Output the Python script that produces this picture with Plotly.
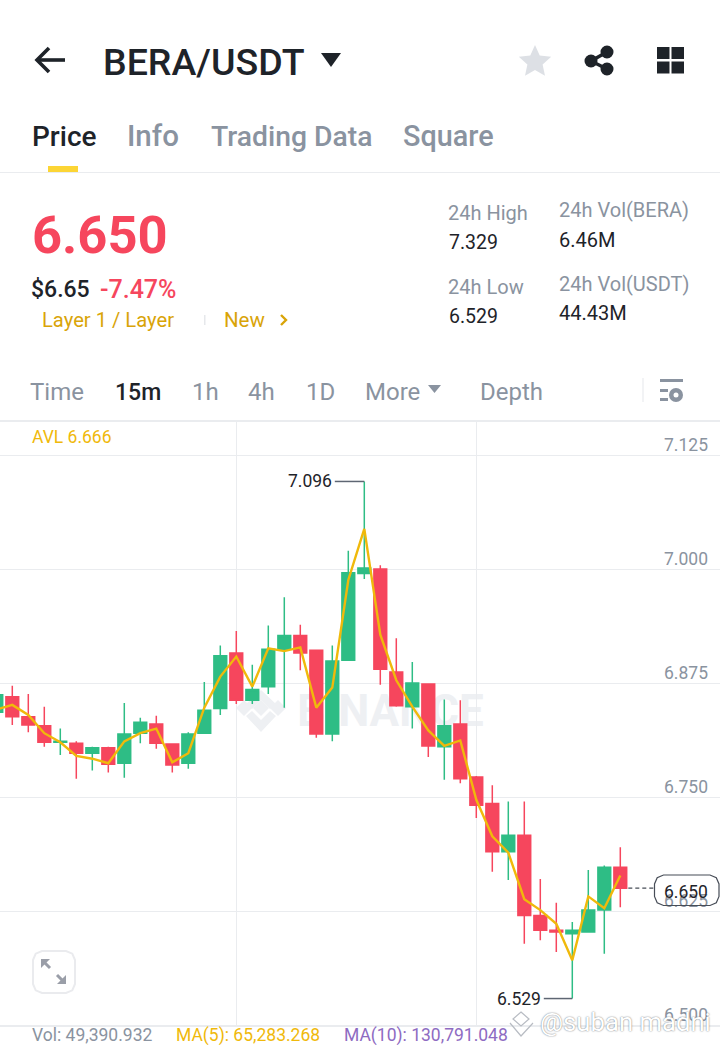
import math
import plotly.graph_objects as go

# ---------- data ----------
opens = [6.843, 6.860, 6.838, 6.828, 6.810, 6.809, 6.798, 6.804, 6.787, 6.820, 6.830, 6.808, 6.787, 6.820, 6.847, 6.908,
         6.856, 6.871, 6.912, 6.927, 6.911, 6.819, 6.900, 6.995, 7.000, 6.887, 6.849, 6.874, 6.805, 6.830, 6.772, 6.743,
         6.690, 6.708, 6.620, 6.604, 6.600, 6.602, 6.626, 6.673]
highs = [6.872, 6.872, 6.863, 6.849, 6.825, 6.811, 6.805, 6.805, 6.853, 6.837, 6.839, 6.809, 6.821, 6.876, 6.916, 6.932,
         6.895, 6.938, 6.969, 6.939, 6.911, 6.916, 7.020, 7.096, 7.004, 6.924, 6.898, 6.874, 6.857, 6.856, 6.773, 6.763,
         6.745, 6.745, 6.660, 6.634, 6.613, 6.670, 6.675, 6.695]
lows = [6.837, 6.829, 6.821, 6.805, 6.796, 6.770, 6.779, 6.777, 6.771, 6.809, 6.803, 6.777, 6.781, 6.820, 6.840, 6.852,
        6.852, 6.863, 6.848, 6.889, 6.815, 6.811, 6.899, 6.989, 6.873, 6.849, 6.825, 6.794, 6.769, 6.765, 6.727, 6.668,
        6.659, 6.589, 6.593, 6.580, 6.529, 6.602, 6.578, 6.629]
closes = [6.862, 6.838, 6.829, 6.810, 6.811, 6.798, 6.804, 6.786, 6.819, 6.832, 6.809, 6.785, 6.819, 6.845, 6.905, 6.856,
          6.868, 6.912, 6.927, 6.908, 6.819, 6.899, 6.996, 7.001, 6.890, 6.850, 6.875, 6.806, 6.828, 6.770, 6.741, 6.690,
          6.708, 6.620, 6.604, 6.602, 6.604, 6.626, 6.673, 6.650]
ma_line = [6.846, 6.851, 6.840, 6.820, 6.810, 6.795, 6.792, 6.787, 6.811, 6.820, 6.825, 6.788, 6.798, 6.848, 6.882, 6.904,
           6.871, 6.913, 6.910, 6.914, 6.848, 6.870, 6.988, 7.044, 6.928, 6.878, 6.849, 6.823, 6.806, 6.812, 6.747, 6.707,
           6.689, 6.638, 6.626, 6.611, 6.571, 6.641, 6.628, 6.664]
candle_index = list(range(len(opens)))
price_ticks = [7.125, 7.000, 6.875, 6.750, 6.625, 6.500]
price_labels = ["7.125", "7.000", "6.875", "6.750", "6.625", "6.500"]
time_grid = [15, 30]
high_mark = (23, 7.096, "7.096")
low_mark = (36, 6.529, "6.529")
last_price = 6.650

# ---------- page geometry ----------
W, H = 720, 1045
TOP, BOTTOM = 421, 1026
def px(x): return x / W
def py(y): return 1 - y / H
def path(pts, close=False):
    s = "M" + " L".join(f"{px(x):.5f},{py(y):.5f}" for x, y in pts)
    return s + (" Z" if close else "")

DARK = "#1E2329"
GRAY = "#8A93A0"
RED = "#F6465D"
GREEN = "#2EBD85"
GOLD = "#D9A408"
YEL = "#F0B90B"
LINE = "#EAECEF"
PURPLE = "#8E6BC2"
FONT = "Roboto"

fig = go.Figure()
fig.add_trace(go.Candlestick(
    x=candle_index, open=opens, high=highs, low=lows, close=closes,
    increasing=dict(line=dict(color=GREEN, width=1.5), fillcolor=GREEN),
    decreasing=dict(line=dict(color=RED, width=1.5), fillcolor=RED),
    whiskerwidth=0, hoverinfo="skip", showlegend=False))
fig.add_trace(go.Scatter(
    x=candle_index, y=ma_line, mode="lines",
    line=dict(color=YEL, width=2.4, shape="linear"), hoverinfo="skip", showlegend=False))

shapes, notes = [], []
def T(x, y, text, size, color, anchor="left", weight=400, **kw):
    notes.append(dict(xref="paper", yref="paper", x=px(x), y=py(y), text=text, showarrow=False,
                      xanchor=anchor, yanchor="middle", borderpad=0, borderwidth=0,
                      font=dict(family=FONT, size=size, color=color, weight=weight, **kw)))
def P(pts, fill=None, line=None, w=0, close=True, layer="above"):
    shapes.append(dict(type="path", xref="paper", yref="paper", path=path(pts, close), layer=layer,
                       fillcolor=fill if fill else "rgba(0,0,0,0)",
                       line=dict(color=line if line else "rgba(0,0,0,0)", width=w)))
def R(x0, y0, x1, y1, fill, layer="above"):
    shapes.append(dict(type="rect", xref="paper", yref="paper", x0=px(x0), x1=px(x1), y0=py(y0), y1=py(y1),
                       fillcolor=fill, line=dict(width=0), layer=layer))
def C(cx, cy, r, fill):
    shapes.append(dict(type="circle", xref="paper", yref="paper", x0=px(cx-r), x1=px(cx+r), y0=py(cy-r), y1=py(cy+r),
                       fillcolor=fill, line=dict(width=0)))
def RR(x0, y0, x1, y1, r, line, w):
    n = [(x0+r, y0), (x1-r, y0), (x1-r*0.3, y0+r*0.3), (x1, y0+r), (x1, y1-r), (x1-r*0.3, y1-r*0.3), (x1-r, y1),
         (x0+r, y1), (x0+r*0.3, y1-r*0.3), (x0, y1-r), (x0, y0+r), (x0+r*0.3, y0+r*0.3)]
    P(n, None, line, w)

# header
P([(65, 60), (38, 60)], None, DARK, 3.6, False)
P([(49, 48), (37, 60), (49, 72)], None, DARK, 3.6, False)
T(103, 62, "BERA/USDT", 37.5, DARK, weight=500)
P([(321, 53), (341, 53), (331, 67)], DARK)
star = []
for k in range(10):
    r = 17 if k % 2 == 0 else 8
    a = -math.pi / 2 + k * math.pi / 5
    star.append((535 + r * math.cos(a), 62 + r * math.sin(a)))
P(star, "#DDE0E5")
C(607, 52, 6.5, DARK); C(591, 61, 6.5, DARK); C(607, 69, 6.5, DARK)
P([(607, 52), (591, 61), (607, 69)], None, DARK, 3.5, False)
for a, b in [(657, 47), (671.5, 47), (657, 61.5), (671.5, 61.5)]:
    R(a, b, a + 12.5, b + 12, DARK)

# tabs
T(32, 136, "Price", 28, DARK, weight=500)
T(127, 136, "Info", 29.5, GRAY, weight=500)
T(211, 136, "Trading Data", 28.3, GRAY, weight=500)
T(403, 136, "Square", 28.8, GRAY, weight=500)
R(48, 166, 78, 172, "#FCD535")
R(0, 172, W, 173, LINE)

# price block
T(32, 235, "6.650", 52.5, RED, weight=700)
T(31, 289, "$6.65", 23, DARK, weight=500)
T(100, 289, "-7.47%", 25, RED, weight=500)
T(42, 320, "Layer 1 / Layer", 20.2, GOLD)
R(204, 315, 205.5, 325, "#E6E8EB")
T(224, 320, "New", 20.5, GOLD)
P([(281, 315), (286, 320), (281, 325)], None, GOLD, 2.4, False)
T(448, 213, "24h High", 20, GRAY)
T(449, 242, "7.329", 19.5, DARK)
T(448, 287, "24h Low", 20, GRAY)
T(449, 316, "6.529", 19.5, DARK)
T(559, 210, "24h Vol(BERA)", 20, GRAY)
T(559, 240, "6.46M", 20, DARK)
T(559, 284, "24h Vol(USDT)", 20, GRAY)
T(559, 313, "44.43M", 20, DARK)

# interval row
T(30, 392, "Time", 24, GRAY)
T(115, 392, "15m", 23, DARK, weight=500)
T(192, 392, "1h", 24, GRAY)
T(248, 392, "4h", 24, GRAY)
T(306, 392, "1D", 24, GRAY)
T(365, 392, "More", 24, GRAY)
P([(428, 385), (441, 385), (434.5, 393)], GRAY)
T(480, 392, "Depth", 24, GRAY)
R(642.5, 378, 643.5, 402, "#E6E8EB")
R(660, 379, 683, 382, GRAY)
R(660, 389, 668, 392, GRAY)
R(660, 398, 668, 401, GRAY)
C(676, 395, 7, GRAY); C(676, 395, 2.5, "#FFFFFF")
R(0, 420, W, 422, LINE)

T(32, 437, "AVL 6.666", 17.5, YEL)

# faint logo and wordmark under the candles
WM = "#EEF0F3"
for q in [[(261, 700), (269, 708), (261, 716), (253, 708)],
          [(244, 700), (252, 708), (244, 716), (236, 708)],
          [(278, 700), (286, 708), (278, 716), (270, 708)],
          [(261, 690), (276, 704), (270, 709), (261, 700), (252, 709), (246, 704)],
          [(261, 732), (276, 716), (270, 711), (261, 720), (252, 711), (246, 716)]]:
    P(q, WM, layer="below")
shapes.append(dict(type="rect", xref="paper", yref="paper", x0=px(295), x1=px(486), y0=py(690), y1=py(726),
                   line=dict(width=0), fillcolor="rgba(0,0,0,0)", layer="below",
                   label=dict(text="BINANCE", textposition="middle center",
                              font=dict(family=FONT, size=44, color=WM, weight=700))))

# high / low markers and last price
for (i, v, s), dx in [(high_mark, -29.5 / 16), (low_mark, -28.5 / 16)]:
    shapes.append(dict(type="line", xref="x", yref="y", x0=i + dx, x1=i, y0=v, y1=v,
                       line=dict(color="#5E6673", width=1.5), layer="above"))
    notes.append(dict(xref="x", yref="y", x=i + dx, y=v, text=s, showarrow=False, xanchor="right", yanchor="middle",
                      xshift=-2, borderpad=0, font=dict(family=FONT, size=17.5, color=DARK)))
shapes.append(dict(type="line", xref="x", yref="y", x0=39.5, x1=41.2, y0=last_price, y1=last_price,
                   line=dict(color="#474D57", width=1.2, dash="4px,3px"), layer="above"))
RR(654.5, 875, 719, 905.5, 9, "#474D57", 1.2)
T(708, 892, "6.650", 17.5, DARK, anchor="right")

# expand button
RR(33, 951, 75, 993, 9, "#EAEBEE", 2)
P([(43, 961), (50, 968)], None, "#9A9EA8", 3, False)
P([(41, 959), (50, 959), (41, 968)], "#9A9EA8")
P([(57, 975), (64, 982)], None, "#9A9EA8", 3, False)
P([(66, 984), (66, 975), (57, 984)], "#9A9EA8")

# footer
R(0, 1025, W, 1027, LINE)
T(32, 1035, "Vol: 49,390.932", 17.5, GRAY)
T(176, 1035, "MA(5): 65,283.268", 17.5, YEL)
T(344, 1035, "MA(10): 130,791.048", 17.5, PURPLE)

# photographer's watermark
WG = "#B8BCC3"
P([(521, 1012), (529, 1019), (521, 1026), (513, 1019)], None, WG, 1.2)
P([(510, 1023), (521, 1036), (533, 1023)], None, WG, 1.2, False)
T(540, 1022, "@suban madni", 25.7, "#FFFFFF", shadow="0 0 1.5px #555A62")

fig.update_layout(
    width=W, height=H, margin=dict(l=0, r=0, t=0, b=0, pad=0),
    paper_bgcolor="#FFFFFF", plot_bgcolor="#FFFFFF", showlegend=False,
    font=dict(family=FONT), shapes=shapes, annotations=notes, boxgap=0.2, boxgroupgap=0,
    xaxis=dict(domain=[0, 1], range=[0.231, 45.231], tickvals=time_grid, showticklabels=False, ticks="",
               showgrid=True, gridcolor=LINE, gridwidth=1, zeroline=False, showline=False,
               rangeslider=dict(visible=False), fixedrange=True),
    yaxis=dict(domain=[py(BOTTOM), py(TOP)], range=[6.4989, 7.1623], side="right", tickvals=price_ticks,
               ticktext=price_labels, ticklabelposition="inside", ticklabelshift=-10, ticklabelstandoff=9,
               tickfont=dict(family=FONT, size=17.5, color=GRAY), ticks="",
               showgrid=True, gridcolor=LINE, gridwidth=1, zeroline=False, showline=False, fixedrange=True),
)
fig.write_html("out.html", config=dict(displayModeBar=False),
               post_script="document.body.style.margin='0';document.documentElement.style.overflow='hidden';")
